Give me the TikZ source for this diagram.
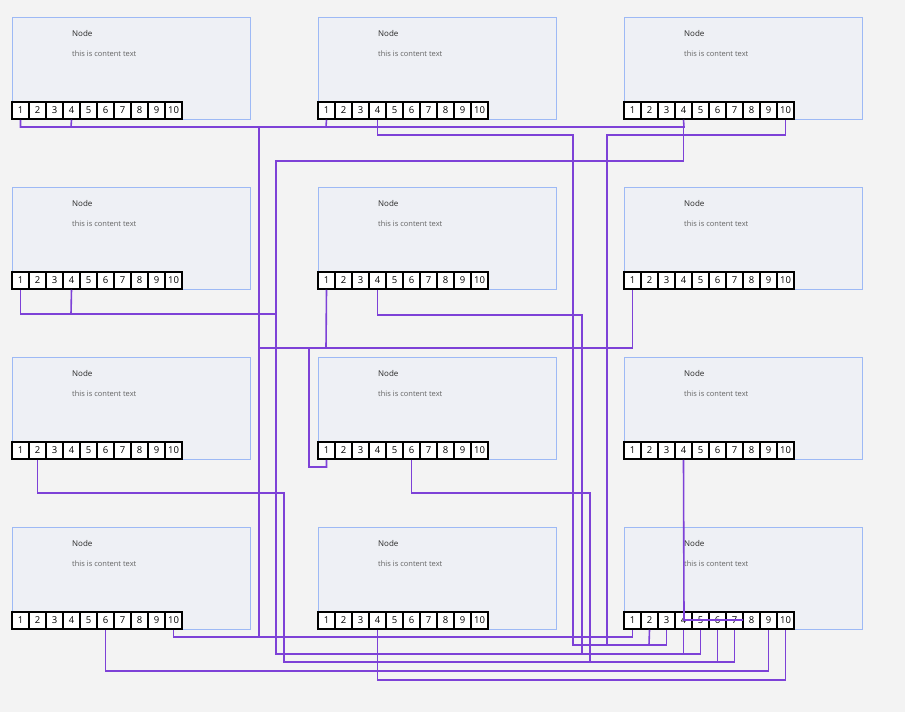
\documentclass[tikz,border=0pt]{standalone}
\usepackage{fontspec}
\setmainfont{Open Sans}
\definecolor{bgc}{RGB}{243,243,243}
\definecolor{cardb}{RGB}{157,185,245}
\definecolor{cardf}{RGB}{238,240,245}
\definecolor{wirec}{RGB}{125,65,215}
\definecolor{ttlc}{RGB}{40,40,40}
\definecolor{subc}{RGB}{100,100,100}
\begin{document}
\begin{tikzpicture}[x=1pt,y=-1pt,
  card/.style={draw=cardb, fill=cardf, line width=1.2pt, minimum width=238pt, minimum height=102pt, inner sep=0pt, anchor=north west},
  port/.style={draw=black, fill=white, line width=1.5pt, minimum size=17pt, inner sep=0pt, font=\fontsize{9.5}{9.5}\selectfont},
  w/.style={draw=wirec, line width=1.6pt},
  ttl/.style={font=\fontsize{8}{9}\selectfont, text=ttlc, anchor=west, inner sep=0pt},
  sub/.style={font=\fontsize{7.5}{9}\selectfont, text=subc, anchor=west, inner sep=0pt}]
\fill[bgc] (0,0) rectangle (905,712);
\useasboundingbox (0,0) rectangle (905,712);
\foreach \r in {0,1,2,3}{
 \foreach \c in {0,1,2}{
  \pgfmathsetmacro{\X}{12+306*\c}
  \pgfmathsetmacro{\Y}{17+170*\r}
  \node[card] (n\r\c) at (\X,\Y) {};
  \node[ttl] at (\X+60,\Y+16) {Node};
  \node[sub] at (\X+60,\Y+37) {this is content text};
  \foreach \i in {1,...,10}{
    \node[port] (n\r\c p\i) at (\X+8.5+17*\i-17,\Y+93.5) {\i};
  }
 }
}
% wires
\draw[w] (n00p1.south) |- (684,127) -- (n02p4.south);
\draw[w] (n00p4.south) -- (71,127);
\draw[w] (n01p1.south) -- (326,127);
\draw[w] (n02p4.south) |- (276,161) -- (276,654) -| (n32p5.south);
\draw[w] (n32p4.south) -- (683.5,654);
\draw[w] (259,127) -- (259,637);
\draw[w] (n30p10.south) |- (259,637) -| (n32p1.south);
\draw[w] (n01p4.south) |- (573,135) -- (573,645) -| (n32p3.south);
\draw[w] (n32p2.south) -- (649,645);
\draw[w] (n02p10.south) |- (607,135) -- (607,645);
\draw[w] (n11p4.south) |- (582,315) -- (582,654);
\draw[w] (n10p1.south) |- (276,314);
\draw[w] (n10p4.south) -- (71,314);
\draw[w] (n12p1.south) |- (259,348);
\draw[w] (n11p1.south) -- (326,348) -- (309,348) -- (309,467) -| (n21p1.south);
\draw[w] (n20p2.south) |- (284,493) -- (284,662) -| (n32p7.south);
\draw[w] (n32p6.south) -- (717.5,662);
\draw[w] (n21p6.south) |- (590,493) -- (590,662);
\draw[w] (n30p6.south) |- (n32p9.south |- 0,671) -- (n32p9.south);
\draw[w] (n31p4.south) |- (n32p10.south |- 0,680) -- (n32p10.south);
\draw[w] (n22p4.south) -- (684,620) -- (743,620);
\end{tikzpicture}
\end{document}
